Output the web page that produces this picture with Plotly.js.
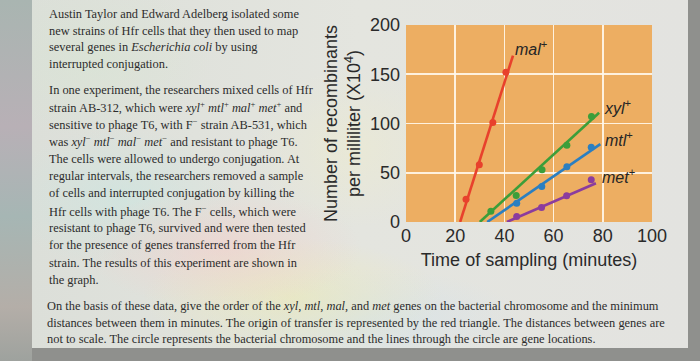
<!DOCTYPE html>
<html>
<head>
<meta charset="utf-8">
<script src="https://cdn.plot.ly/plotly-3.0.1.min.js"></script>
<style>
  html, body { margin:0; padding:0; }
  #wrap { position:relative; width:700px; height:361px; overflow:hidden; background:#8f908d; }
  #strip { position:absolute; left:0; top:0; width:32px; height:361px;
    background: linear-gradient(180deg,#a9b5b1 0%,#b8b0b6 35%,#a6b6b4 60%,#b4aea8 85%,#9ea29e 100%); }
  #panel { position:absolute; left:32px; top:-2px; width:656px; height:350px;
    background:
      radial-gradient(ellipse 140px 60px at 190px 250px, rgba(245,205,200,0.55), rgba(245,205,200,0) 100%),
      radial-gradient(ellipse 120px 70px at 90px 200px, rgba(200,230,225,0.55), rgba(200,230,225,0) 100%),
      radial-gradient(ellipse 150px 60px at 260px 300px, rgba(240,235,175,0.55), rgba(240,235,175,0) 100%),
      radial-gradient(ellipse 160px 50px at 330px 320px, rgba(205,225,240,0.5), rgba(205,225,240,0) 100%),
      radial-gradient(ellipse 120px 80px at 60px 60px, rgba(215,230,210,0.5), rgba(215,230,210,0) 100%),
      radial-gradient(ellipse 100px 80px at 320px 150px, rgba(238,236,205,0.5), rgba(238,236,205,0) 100%),
      linear-gradient(90deg, #dcdfd9 0%, #e4e5df 50%, #e3e3e0 100%); }
  #chart { position:absolute; left:0; top:0; width:700px; height:361px; }
</style>
</head>
<body>
<div id="wrap">
  <div id="strip"></div>
  <div id="panel"></div>
  <div id="chart"></div>
</div>
<script>
// ---- data ----
const xTickVals = [0, 20, 40, 60, 80, 100];
const yTickVals = [0, 50, 100, 150, 200];

const malX = [24.4, 29.8, 35.3, 40.6];
const malY = [23, 58, 101, 152];
const malLineX = [22, 43.5];
const malLineY = [0, 169];

const xylX = [34.5, 44.8, 55.3, 65.4, 75.4];
const xylY = [11, 27, 53, 78, 107];
const xylLineX = [30, 78.5];
const xylLineY = [0, 111];

const mtlX = [45, 55.2, 65.4, 75.3];
const mtlY = [19, 36, 56, 76];
const mtlLineX = [33, 79];
const mtlLineY = [0, 79];

const metX = [45, 55.1, 65.3, 75.3];
const metY = [5.7, 14.6, 26.7, 43];
const metLineX = [41, 77.2];
const metLineY = [0, 39.3];

const geneLabels = ['<i>mal</i><sup>+</sup>', '<i>xyl</i><sup>+</sup>', '<i>mtl</i><sup>+</sup>', '<i>met</i><sup>+</sup>'];
const geneLabelX = [43.6, 79.6, 80.2, 78.8];
const geneLabelY = [177, 117, 84, 47];

const para1 = [
  'Austin Taylor and Edward Adelberg isolated some',
  'new strains of Hfr cells that they then used to map',
  'several genes in <i>Escherichia coli</i> by using',
  'interrupted conjugation.'
];
const para2 = [
  'In one experiment, the researchers mixed cells of Hfr',
  'strain AB-312, which were <i>xyl</i><sup>+</sup> <i>mtl</i><sup>+</sup> <i>mal</i><sup>+</sup> <i>met</i><sup>+</sup> and',
  'sensitive to phage T6, with F<sup>\u2212</sup> strain AB-531, which',
  'was <i>xyl</i><sup>\u2212</sup> <i>mtl</i><sup>\u2212</sup> <i>mal</i><sup>\u2212</sup> <i>met</i><sup>\u2212</sup> and resistant to phage T6.',
  'The cells were allowed to undergo conjugation. At',
  'regular intervals, the researchers removed a sample',
  'of cells and interrupted conjugation by killing the',
  'Hfr cells with phage T6. The F<sup>\u2212</sup> cells, which were',
  'resistant to phage T6, survived and were then tested',
  'for the presence of genes transferred from the Hfr',
  'strain. The results of this experiment are shown in',
  'the graph.'
];
const question = [
  'On the basis of these data, give the order of the <i>xyl</i>, <i>mtl</i>, <i>mal</i>, and <i>met</i> genes on the bacterial chromosome and the minimum',
  'distances between them in minutes. The origin of transfer is represented by the red triangle. The distances between genes are',
  'not to scale. The circle represents the bacterial chromosome and the lines through the circle are gene locations.'
];

// ---- layout helpers ----
const L = 406, R = 48, T = 25, B = 139, W = 700, H = 361;
const pw = W - L - R, ph = H - T - B;
const px2x = p => (p - L) / pw;
const py2y = p => (H - B - p) / ph;

const colors = { mal: '#e8412c', xyl: '#3c9e3a', mtl: '#2b7fc1', met: '#8b3c9e' };

function lineTrace(x, y, c) {
  return { x, y, type: 'scatter', mode: 'lines', line: { color: c, width: 2.6 }, hoverinfo: 'skip', showlegend: false, cliponaxis: true };
}
function ptTrace(x, y, c) {
  return { x, y, type: 'scatter', mode: 'markers', marker: { color: c, size: 7 }, showlegend: false, cliponaxis: false };
}

const data = [
  lineTrace(malLineX, malLineY, colors.mal), ptTrace(malX, malY, colors.mal),
  lineTrace(xylLineX, xylLineY, colors.xyl), ptTrace(xylX, xylY, colors.xyl),
  lineTrace(mtlLineX, mtlLineY, colors.mtl), ptTrace(mtlX, mtlY, colors.mtl),
  lineTrace(metLineX, metLineY, colors.met), ptTrace(metX, metY, colors.met)
];

const annotations = [];
geneLabels.forEach((t, i) => annotations.push({
  x: geneLabelX[i], y: geneLabelY[i], xref: 'x', yref: 'y', text: t, showarrow: false,
  xanchor: 'left', yanchor: 'middle', font: { family: 'Liberation Sans, Arial, sans-serif', size: 16, color: '#262626' }
}));

const serif = 'Liberation Serif, Times New Roman, serif';
function addLines(lines, x0, y0, step, size) {
  lines.forEach((t, i) => annotations.push({
    x: px2x(x0), y: py2y(y0 + i * step), xref: 'paper', yref: 'paper', text: t, showarrow: false,
    xanchor: 'left', yanchor: 'middle', align: 'left',
    font: { family: serif, size: size, color: '#2c2c2c' }
  }));
}
addLines(para1, 47, 14, 16.7, 12.4);
addLines(para2, 46.5, 89.5, 17.3, 12.4);
addLines(question, 45, 306, 16.5, 12.4);

const layout = {
  width: W, height: H,
  margin: { l: L, r: R, t: T, b: B, pad: 0 },
  paper_bgcolor: 'rgba(0,0,0,0)',
  plot_bgcolor: '#edae62',
  font: { family: 'Liberation Sans, Arial, sans-serif', color: '#2a2a2a' },
  xaxis: {
    range: [0, 100], tickvals: xTickVals, ticks: '', showline: false, zeroline: false,
    showgrid: true, gridcolor: 'rgba(255,248,236,0.9)', gridwidth: 1.6,
    tickfont: { size: 18, color: '#2a2a2a' }, ticklabelstandoff: 1,
    title: { text: 'Time of sampling (minutes)', font: { size: 18, color: '#2a2a2a' }, standoff: 8 },
    fixedrange: true
  },
  yaxis: {
    range: [0, 200], tickvals: yTickVals, ticks: '', showline: false, zeroline: false,
    showgrid: true, gridcolor: 'rgba(255,248,236,0.9)', gridwidth: 1.6,
    tickfont: { size: 18, color: '#2a2a2a' }, ticklabelstandoff: 5,
    title: { text: 'Number of recombinants<br>per milliliter (X10<sup>4</sup>)', font: { size: 18, color: '#2a2a2a' }, standoff: 4 },
    fixedrange: true
  },
  annotations: annotations
};

Plotly.newPlot('chart', data, layout, { displayModeBar: false, staticPlot: true });
</script>
</body>
</html>
